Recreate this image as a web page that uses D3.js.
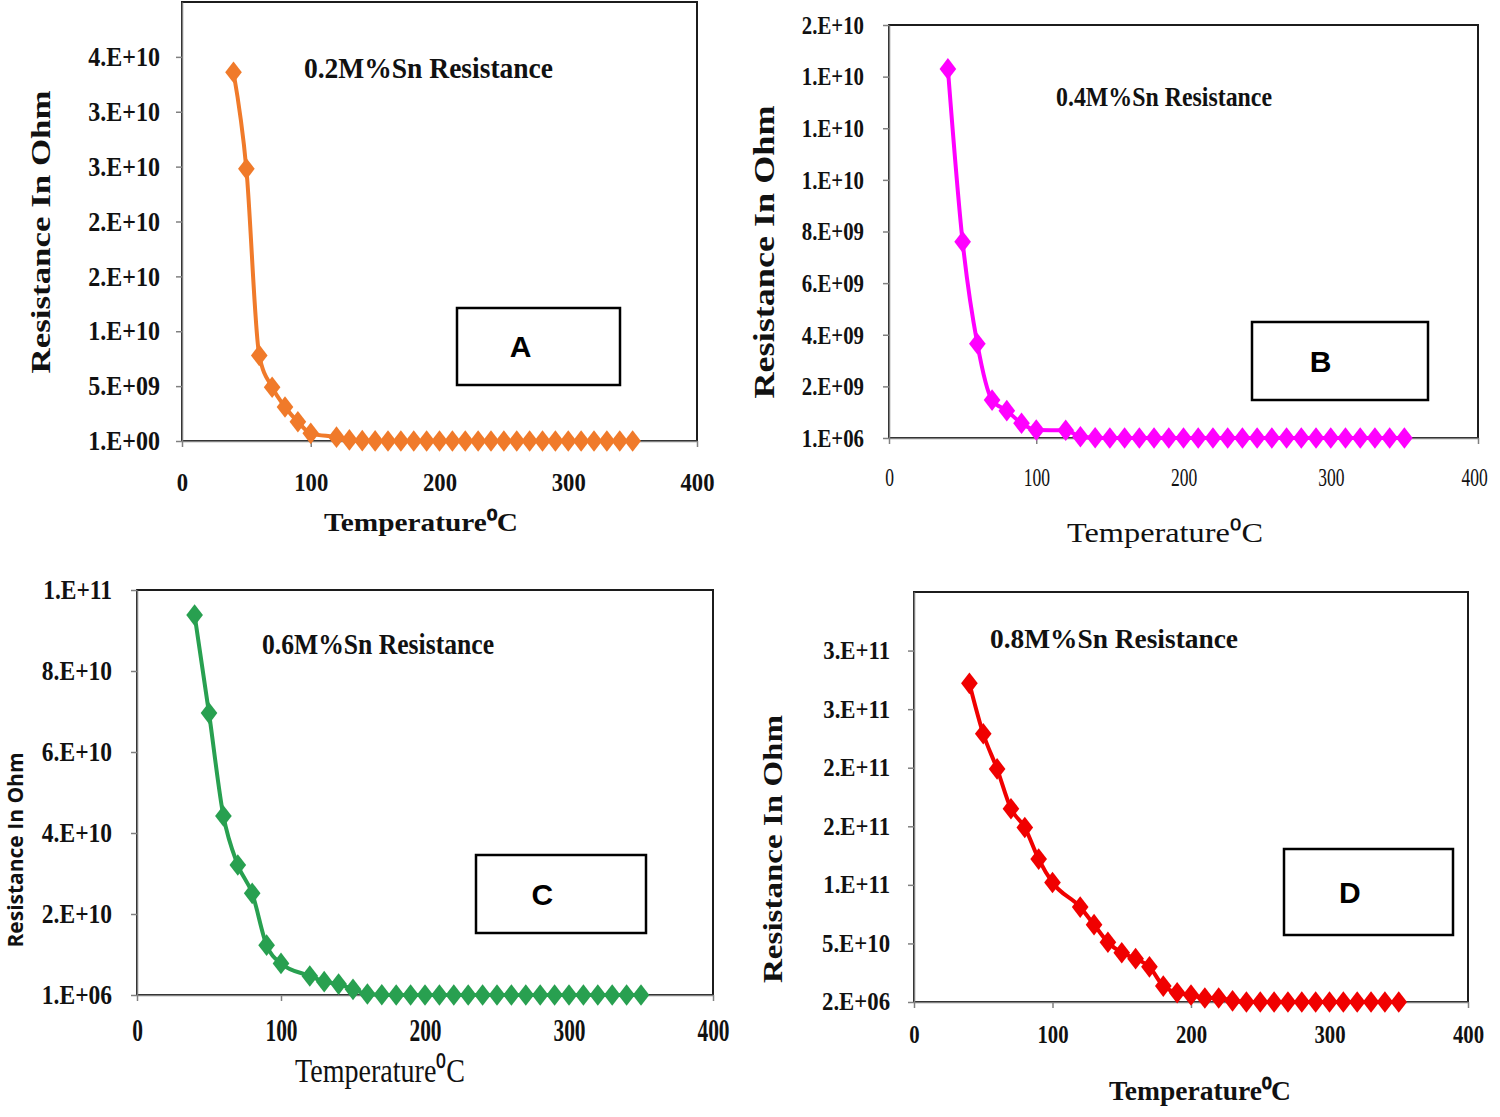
<!DOCTYPE html>
<html lang="en">
<head>
<meta charset="UTF-8">
<title>Sn Resistance vs Temperature</title>
<script src="https://d3js.org/d3.v7.min.js"></script>
<style>
  body { margin: 0; background: #fff; }
  svg { display: block; background: #fff; }
</style>
</head>
<body>
<svg id="chart" width="1500" height="1117"></svg>
<script>
// temperatures (deg C), same for all four samples
const temps = [40, 50, 60, 70, 80, 90, 100, 120, 130, 140, 150, 160, 170, 180, 190, 200,
               210, 220, 230, 240, 250, 260, 270, 280, 290, 300, 310, 320, 330, 340, 350];

// resistance in ohm
const resA = [3.36e10, 2.48e10, 7.8e9, 4.9e9, 3.1e9, 1.75e9, 7.0e8, 3.5e8, 1.0e8, 3e7, 1e7,
              1e6, 1e6, 1e6, 1e6, 1e6, 1e6, 1e6, 1e6, 1e6, 1e6,
              1e6, 1e6, 1e6, 1e6, 1e6, 1e6, 1e6, 1e6, 1e6, 1e6];
const resB = [1.43e10, 7.6e9, 3.65e9, 1.47e9, 1.06e9, 5.7e8, 3.1e8, 3.0e8, 5e7, 1e7,
              1e6, 1e6, 1e6, 1e6, 1e6, 1e6, 1e6, 1e6, 1e6, 1e6, 1e6,
              1e6, 1e6, 1e6, 1e6, 1e6, 1e6, 1e6, 1e6, 1e6, 1e6];
const resC = [9.38e10, 6.96e10, 4.42e10, 3.21e10, 2.51e10, 1.23e10, 7.8e9, 4.7e9, 3.3e9, 2.7e9,
              1.4e9, 2.5e8, 5e7,
              1e6, 1e6, 1e6, 1e6, 1e6, 1e6, 1e6, 1e6, 1e6,
              1e6, 1e6, 1e6, 1e6, 1e6, 1e6, 1e6, 1e6, 1e6];
const resD = [2.72e11, 2.29e11, 1.99e11, 1.65e11, 1.49e11, 1.22e11, 1.02e11, 8.1e10, 6.6e10,
              5.1e10, 4.2e10, 3.7e10, 3.0e10, 1.36e10, 7.9e9, 6.0e9, 3.4e9, 3.4e9, 1.0e9,
              2e6, 2e6, 2e6, 2e6, 2e6, 2e6, 2e6, 2e6, 2e6, 2e6, 2e6, 2e6];

// axis ticks and their (Excel style) labels
const xTicks = [0, 100, 200, 300, 400];
const ticksA = [1, 5e9, 1e10, 1.5e10, 2e10, 2.5e10, 3e10, 3.5e10];
const labelsA = ["1.E+00", "5.E+09", "1.E+10", "2.E+10", "2.E+10", "3.E+10", "3.E+10", "4.E+10"];
const ticksB = [1e6, 2e9, 4e9, 6e9, 8e9, 1e10, 1.2e10, 1.4e10, 1.6e10];
const labelsB = ["1.E+06", "2.E+09", "4.E+09", "6.E+09", "8.E+09", "1.E+10", "1.E+10", "1.E+10", "2.E+10"];
const ticksC = [1e6, 2e10, 4e10, 6e10, 8e10, 1e11];
const labelsC = ["1.E+06", "2.E+10", "4.E+10", "6.E+10", "8.E+10", "1.E+11"];
const ticksD = [2e6, 5e10, 1e11, 1.5e11, 2e11, 2.5e11, 3e11];
const labelsD = ["2.E+06", "5.E+10", "1.E+11", "2.E+11", "2.E+11", "3.E+11", "3.E+11"];

const titles = ["0.2M%Sn Resistance", "0.4M%Sn Resistance", "0.6M%Sn Resistance", "0.8M%Sn Resistance"];
const letters = ["A", "B", "C", "D"];

const SERIF = '"Liberation Serif", "Times New Roman", serif';
const SANS = '"Liberation Sans", Arial, sans-serif';

const svg = d3.select("#chart");

// the figure is stretched vertically, so text gets squeezed/stretched to measured widths
function fitWidth(sel, k) {
    sel.each(function () {
        const w = this.getComputedTextLength();
        d3.select(this).attr("textLength", w * k).attr("lengthAdjust", "spacingAndGlyphs");
    });
}

// taller than wide diamond marker
const tallDiamond = {
    draw(ctx, size) {
        const w = Math.sqrt(size / 0.667) / 2;
        const h = w * 1.3;
        ctx.moveTo(0, -h);
        ctx.lineTo(w, 0);
        ctx.lineTo(0, h);
        ctx.lineTo(-w, 0);
        ctx.closePath();
    }
};

const panels = [
    { values: resA, yMax: 4e10, yTicks: ticksA, yLabels: labelsA, color: "#F07A2A",
      x0: 182, x1: 697, y0: 2, y1: 441,
      yFont: 27, yWeight: "bold", yFit: 0.89, yPad: 16,
      xFont: 26, xWeight: "bold", xFit: 0.87, xLab: 41,
      title: { x: 304, y: 78, size: 30, w: 249 },
      yTitle: { x: 41, y: 232, size: 27, w: 283, family: SERIF },
      xTitle: { x: 421, y: 531, size: 26, w: 194, weight: "bold" },
      box: { x: 457, y: 308, w: 163, h: 77 } },
    { values: resB, yMax: 1.6e10, yTicks: ticksB, yLabels: labelsB, color: "#FF00FF",
      x0: 889, x1: 1478, y0: 25, y1: 438,
      yFont: 26, yWeight: "bold", yFit: 0.8, yPad: 19,
      xFont: 25, xWeight: "normal", xFit: 0.7, xLab: 39,
      title: { x: 1056, y: 106, size: 28, w: 216 },
      yTitle: { x: 764, y: 252, size: 29, w: 293, family: SERIF },
      xTitle: { x: 1165, y: 542, size: 28, w: 196, weight: "normal" },
      box: { x: 1252, y: 322, w: 176, h: 78 } },
    { values: resC, yMax: 1e11, yTicks: ticksC, yLabels: labelsC, color: "#28A050",
      x0: 137, x1: 713, y0: 590, y1: 995,
      yFont: 27, yWeight: "bold", yFit: 0.87, yPad: 19,
      xFont: 32, xWeight: "bold", xFit: 0.67, xLab: 35,
      title: { x: 262, y: 654, size: 30, w: 232 },
      yTitle: { x: 15, y: 850, size: 21, w: 195, family: '"Open Sans", ' + SANS },
      xTitle: { x: 380, y: 1082, size: 34, w: 170, weight: "normal" },
      box: { x: 476, y: 855, w: 170, h: 78 } },
    { values: resD, yMax: 3.5e11, yTicks: ticksD, yLabels: labelsD, color: "#F00000",
      x0: 914, x1: 1468, y0: 592, y1: 1002,
      yFont: 25, yWeight: "bold", yFit: 0.91, yPad: 18,
      xFont: 25, xWeight: "bold", xFit: 0.83, xLab: 32,
      title: { x: 990, y: 648, size: 28, w: 248 },
      yTitle: { x: 772, y: 849, size: 28, w: 268, family: SERIF },
      xTitle: { x: 1200, y: 1100, size: 27, w: 182, weight: "bold" },
      box: { x: 1284, y: 849, w: 169, h: 86 } }
];

function drawPanel(p, i) {
    const g = svg.append("g");

    const x = d3.scaleLinear().domain([0, 400]).range([p.x0, p.x1]);
    const y = d3.scaleLinear().domain([0, p.yMax]).range([p.y1, p.y0]);

    // plot frame
    g.append("rect")
        .attr("x", p.x0).attr("y", p.y0)
        .attr("width", p.x1 - p.x0).attr("height", p.y1 - p.y0)
        .attr("fill", "none").attr("stroke", "#1c1c1c").attr("stroke-width", 2);

    // y axis
    const ya = g.append("g")
        .attr("transform", `translate(${p.x0},0)`)
        .call(d3.axisLeft(y).tickValues(p.yTicks).tickFormat((d, k) => p.yLabels[k])
            .tickSize(6).tickSizeOuter(0).tickPadding(p.yPad));
    ya.select(".domain").attr("stroke", "#808080").attr("stroke-width", 1.5);
    ya.selectAll(".tick line").attr("stroke", "#808080").attr("stroke-width", 1.5);
    ya.selectAll("text")
        .attr("font-family", SERIF).attr("font-size", p.yFont)
        .attr("font-weight", p.yWeight).attr("fill", "#111");
    fitWidth(ya.selectAll("text"), p.yFit);

    // x axis
    const xa = g.append("g")
        .attr("transform", `translate(0,${p.y1})`)
        .call(d3.axisBottom(x).tickValues(xTicks).tickSize(6).tickSizeOuter(0));
    xa.select(".domain").attr("stroke", "#808080").attr("stroke-width", 1.5);
    xa.selectAll(".tick line").attr("stroke", "#808080").attr("stroke-width", 1.5);
    xa.selectAll("text")
        .attr("y", p.xLab).attr("dy", "0.35em")
        .attr("font-family", SERIF).attr("font-size", p.xFont)
        .attr("font-weight", p.xWeight).attr("fill", "#111");
    fitWidth(xa.selectAll("text"), p.xFit);
    // keep the last label inside the page on the right hand panels
    if (p.x1 > 1470) xa.selectAll("text").filter(d => d === 400).attr("dx", -4);

    // series
    const pts = d3.zip(temps, p.values);
    const line = d3.line()
        .x(d => x(d[0]))
        .y(d => y(d[1]))
        .curve(d3.curveMonotoneX);

    g.append("path")
        .datum(pts)
        .attr("d", line)
        .attr("fill", "none")
        .attr("stroke", p.color)
        .attr("stroke-width", 4);

    g.selectAll(".pt")
        .data(pts)
        .join("path")
        .attr("class", "pt")
        .attr("transform", d => `translate(${x(d[0])},${y(d[1])})`)
        .attr("d", d3.symbol().type(tallDiamond).size(185))
        .attr("fill", p.color);

    // title inside the plot
    g.append("text")
        .attr("x", p.title.x).attr("y", p.title.y)
        .attr("font-family", SERIF).attr("font-size", p.title.size)
        .attr("font-weight", "bold").attr("fill", "#111")
        .attr("textLength", p.title.w).attr("lengthAdjust", "spacingAndGlyphs")
        .text(titles[i]);

    // y axis title
    g.append("text")
        .attr("transform", `translate(${p.yTitle.x},${p.yTitle.y}) rotate(-90)`)
        .attr("text-anchor", "middle").attr("dominant-baseline", "central")
        .attr("font-family", p.yTitle.family).attr("font-size", p.yTitle.size)
        .attr("font-weight", "bold").attr("fill", "#111")
        .attr("textLength", p.yTitle.w).attr("lengthAdjust", "spacingAndGlyphs")
        .text("Resistance In Ohm");

    // x axis title (superscript zero as in the original)
    g.append("text")
        .attr("x", p.xTitle.x).attr("y", p.xTitle.y)
        .attr("text-anchor", "middle")
        .attr("font-family", SERIF).attr("font-size", p.xTitle.size)
        .attr("font-weight", p.xTitle.weight).attr("fill", "#111")
        .attr("textLength", p.xTitle.w).attr("lengthAdjust", "spacingAndGlyphs")
        .text("Temperature\u2070C");

    // panel letter box
    g.append("rect")
        .attr("x", p.box.x).attr("y", p.box.y)
        .attr("width", p.box.w).attr("height", p.box.h)
        .attr("fill", "#fff").attr("stroke", "#000").attr("stroke-width", 2.5);
    g.append("text")
        .attr("x", p.box.x + p.box.w * 0.39).attr("y", p.box.y + p.box.h / 2)
        .attr("text-anchor", "middle").attr("dominant-baseline", "central")
        .attr("font-family", SANS).attr("font-size", 30).attr("font-weight", "bold")
        .attr("fill", "#000")
        .text(letters[i]);
}

panels.forEach(drawPanel);
</script>
</body>
</html>
